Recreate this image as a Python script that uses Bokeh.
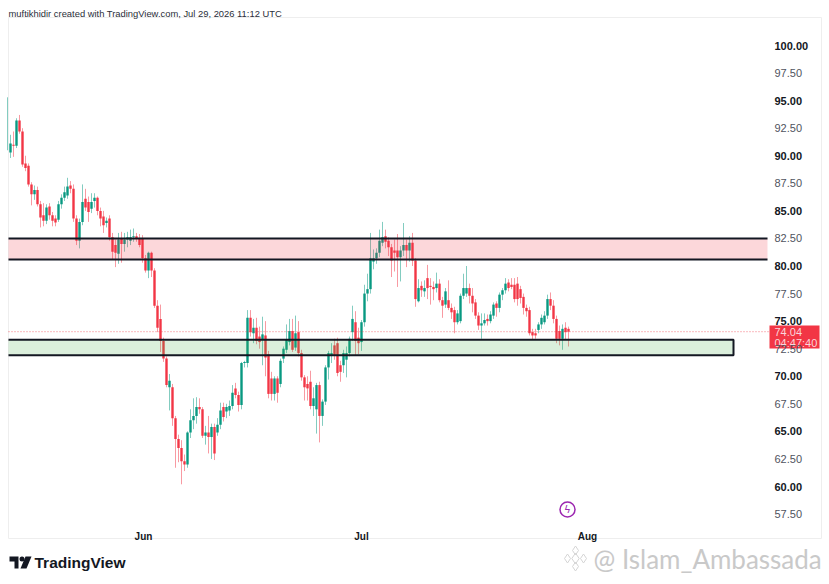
from bokeh.plotting import figure
from bokeh.models import ColumnDataSource, Range1d, LinearAxis, FixedTicker
from bokeh.core.properties import value
from bokeh.embed import file_html
from bokeh.resources import INLINE

# ---- data ----
opens = [90.9,90.3,91.0,90.9,93.2,92.2,89.3,89.1,87.4,86.5,
         86.9,85.6,84.6,84.1,85.4,84.6,84.3,84.2,85.6,86.2,
         86.4,87.3,87.0,84.3,82.3,84.0,86.1,85.8,85.2,85.9,
         86.2,85.0,84.5,83.9,84.3,82.6,81.9,81.1,82.5,82.0,
         82.4,82.3,82.6,82.7,82.5,82.5,80.7,79.6,81.2,79.6,
         76.4,75.2,73.2,71.6,69.0,69.0,66.2,64.3,63.5,62.3,
         62.0,64.9,66.0,66.4,67.2,67.0,64.6,64.9,64.5,65.4,
         64.9,65.6,67.2,66.8,66.9,67.3,68.9,68.3,67.4,71.2,
         71.2,75.3,73.9,74.4,73.6,73.3,73.7,72.0,69.8,68.4,
         69.8,69.3,71.6,72.4,73.1,74.1,72.6,74.0,72.1,69.9,
         69.3,69.5,67.3,67.0,69.2,66.4,67.7,70.8,71.9,72.8,
         73.0,71.0,71.0,71.5,72.1,74.0,74.9,73.5,73.1,74.9,
         77.5,77.9,80.4,80.7,81.2,82.1,82.7,82.3,81.7,81.4,
         81.4,80.8,81.4,81.9,81.4,82.1,80.5,76.8,78.2,77.7,
         78.9,78.2,78.1,78.0,78.4,76.9,76.5,76.9,76.2,76.0,
         74.9,75.0,77.3,77.5,78.0,77.3,76.7,75.5,74.6,74.8,
         75.2,75.0,75.5,76.6,76.2,77.4,77.8,78.5,78.3,78.3,
         78.4,77.9,77.2,76.2,76.0,74.0,73.9,74.2,74.7,74.9,
         75.5,77.0,76.4,75.2,74.1,73.4,74.4,74.3]
highs = [95.3,91.9,92.2,93.4,93.7,92.5,90.0,89.3,87.6,87.3,
         87.2,85.9,85.7,85.6,85.7,84.9,84.6,85.9,86.5,87.2,
         88.0,87.7,87.4,84.6,84.3,87.4,87.0,86.3,86.6,86.6,
         86.3,85.3,85.0,84.4,84.6,83.0,82.4,83.0,83.1,83.0,
         83.1,83.3,83.4,83.0,82.9,82.8,81.0,81.3,81.3,79.8,
         76.9,76.5,73.5,71.8,70.2,69.3,66.4,64.7,64.2,62.9,
         65.0,67.0,68.0,68.1,68.0,67.2,65.5,66.4,65.7,65.7,
         66.2,67.6,67.6,67.5,67.8,69.2,69.4,68.6,71.3,71.4,
         76.0,76.0,75.2,75.3,74.5,75.4,75.0,72.3,70.4,70.0,
         70.0,71.6,72.7,74.7,75.2,75.2,75.5,75.0,72.4,70.1,
         70.0,70.5,69.0,69.4,69.5,67.9,71.0,72.3,73.0,73.4,
         73.5,71.4,72.4,72.7,73.6,76.4,75.9,74.4,75.1,78.3,
         79.3,83.0,81.5,81.6,83.3,84.0,83.3,82.6,82.0,82.4,
         82.9,81.8,83.9,82.4,82.7,83.0,80.7,78.8,78.6,78.7,
         80.1,78.9,78.6,79.4,78.8,77.2,78.0,78.7,76.6,76.3,
         76.0,77.5,79.3,80.0,78.4,78.0,77.0,75.8,75.7,75.7,
         75.6,75.9,76.7,76.8,77.6,78.0,78.9,78.8,78.9,78.9,
         79.0,78.2,77.5,76.5,76.3,74.3,74.3,74.9,75.6,75.9,
         77.4,77.6,76.9,75.5,74.6,74.7,74.9,74.5]
lows = [90.5,89.8,89.9,90.7,92.0,89.0,88.6,87.2,85.5,86.0,
        85.4,83.5,83.6,83.8,84.2,83.6,83.6,84.0,85.2,85.9,
        86.1,86.6,84.0,81.9,81.6,83.7,85.0,84.0,84.8,85.3,
        84.6,83.6,83.0,83.5,82.3,80.6,79.9,80.2,80.3,81.3,
        81.7,81.9,82.2,82.2,81.7,80.3,79.4,78.9,79.0,76.2,
        74.0,72.2,71.3,69.0,66.9,65.5,61.7,62.2,60.2,61.4,
        61.7,64.4,65.2,65.7,66.6,64.4,63.8,63.0,62.5,62.4,
        64.6,65.2,65.9,66.2,66.4,67.0,68.0,66.8,67.0,70.8,
        70.8,73.6,73.0,72.9,72.5,71.0,70.0,68.0,67.8,67.8,
        67.6,69.0,71.2,72.1,72.8,72.2,72.3,71.8,69.6,67.8,
        67.8,67.0,66.4,64.8,64.0,65.5,67.4,69.7,71.2,71.5,
        70.0,69.5,70.3,69.9,71.8,73.2,71.9,72.0,72.3,74.5,
        76.8,77.5,79.7,80.2,80.8,81.8,81.6,80.9,79.0,79.5,
        78.1,78.6,80.9,79.9,80.4,80.0,76.3,76.7,77.2,77.2,
        77.0,76.5,76.9,77.6,76.7,75.3,76.2,76.0,75.2,73.9,
        74.7,74.8,77.0,77.2,76.6,75.8,75.2,74.2,73.4,74.6,
        74.6,74.8,75.2,75.4,75.8,76.9,77.5,77.7,77.9,76.7,
        76.4,76.6,75.6,75.4,73.7,73.3,73.4,73.9,74.3,74.7,
        75.2,76.0,74.8,73.0,72.8,72.4,73.3,72.7]
closes = [90.9,91.1,90.9,93.2,92.2,89.2,88.9,87.4,86.5,86.9,
          85.6,84.4,84.1,85.3,84.6,84.1,83.95,85.6,86.2,86.7,
          87.2,87.0,84.3,82.3,84.0,85.8,85.3,84.9,85.8,86.2,
          85.0,84.3,83.7,84.1,82.6,81.3,81.2,82.4,82.0,82.4,
          82.6,82.6,82.7,82.5,81.9,80.7,79.6,81.2,79.6,76.4,
          74.4,73.2,71.6,69.2,69.6,66.2,64.3,63.5,62.3,62.0,
          64.9,66.0,66.4,67.2,67.0,64.6,64.9,64.5,65.4,63.0,
          65.6,66.9,66.3,67.2,67.3,68.5,68.3,67.4,71.2,71.3,
          75.3,74.0,74.4,73.2,73.1,73.8,71.7,68.4,68.4,69.8,
          68.5,71.4,72.5,73.3,74.1,72.4,73.9,72.1,69.9,69.0,
          68.9,67.3,68.0,69.2,66.4,67.7,70.8,72.1,72.1,71.9,
          70.3,70.4,72.1,72.1,73.4,75.2,73.2,73.0,74.9,77.5,
          77.9,80.7,80.7,81.2,82.3,82.6,82.2,81.7,80.5,81.2,
          80.8,81.4,81.9,81.4,82.1,80.5,77.0,78.0,77.8,78.0,
          78.0,78.1,77.9,78.4,76.9,76.4,77.7,76.2,75.8,74.9,
          75.7,77.3,78.0,78.0,77.3,76.6,75.5,74.6,74.8,75.1,
          75.0,75.6,76.5,76.2,77.4,77.8,78.4,78.0,78.1,77.0,
          77.0,77.1,76.2,75.9,73.9,73.7,73.7,74.7,75.3,75.5,
          77.0,76.4,75.2,73.4,73.4,74.3,74.0,74.04]

major_ticks = [60, 65, 70, 75, 80, 85, 90, 95, 100]
minor_ticks = [57.5, 62.5, 67.5, 72.5, 77.5, 82.5, 87.5, 92.5, 97.5]
month_labels = ["Jun", "Jul", "Aug"]
month_pos = [45.33, 118.0, 193.33]
last_price = 74.04
countdown = "04:47:40"
resistance = (80.6, 82.5)
support = (71.9, 73.3)

RED, GREEN = "#f23645", "#089981"
n = len(closes)
assert len(opens) == n and len(highs) == n and len(lows) == n
colors = [GREEN if c >= o else RED for o, c in zip(opens, closes)]
src = ColumnDataSource(dict(
    x=list(range(n)), o=opens, h=highs, l=lows, c=closes, col=colors,
    top=[max(a, b) for a, b in zip(opens, closes)],
    bot=[min(a, b) for a, b in zip(opens, closes)],
))

W, H = 829, 584
# page pixel -> data helpers for the furniture (pane edge, tag, footer)
def X(px):
    return (px - 7) / 3.0
def Y(py):
    return 100 - (py - 45) / 11.025

p = figure(width=W, height=H, output_backend="svg", toolbar_location=None,
           x_range=Range1d(X(0), X(W)), y_range=Range1d(Y(H), Y(0)),
           x_axis_location=None, y_axis_location=None,
           min_border_left=0, min_border_right=0, min_border_top=0, min_border_bottom=0,
           outline_line_color=None, background_fill_color="white", border_fill_color="white")
p.grid.visible = False

# pane border
p.quad(left=[X(8)], right=[X(821)], top=[Y(17)], bottom=[Y(538)], fill_alpha=0,
       line_color="#eeeeee", line_width=1)

p.segment("x", "h", "x", "l", source=src, color="col", line_width=1, line_alpha=0.5)
p.vbar("x", 0.8, "top", "bot", source=src, fill_color="col", line_color="col", line_width=0)

p.quad(left=[X(8)], right=[X(767)], bottom=[resistance[0]], top=[resistance[1]],
       fill_color="#f23645", fill_alpha=0.2, line_alpha=0)
p.quad(left=[X(8)], right=[X(733)], bottom=[support[0]], top=[support[1]],
       fill_color="#4caf50", fill_alpha=0.2, line_alpha=0)
p.multi_line([[X(8), X(767)], [X(8), X(767)]],
             [[resistance[0]] * 2, [resistance[1]] * 2], line_color="#131722", line_width=2)
p.multi_line([[X(8), X(733), X(733), X(8)]],
             [[support[1], support[1], support[0], support[0]]], line_color="#131722", line_width=2)

p.line([X(8), X(769)], [last_price, last_price], line_color=RED, line_width=1,
       line_alpha=0.7, line_dash="1 2")

def fmt(t):
    return {v: f"{v:.2f}" for v in t}

for ticks, col, style in ((minor_ticks, "#50535e", "normal"), (major_ticks, "#131722", "bold")):
    ax = LinearAxis(ticker=FixedTicker(ticks=ticks), major_label_overrides=fmt(ticks),
                    fixed_location=X(767), axis_line_color=None, major_tick_line_color=None,
                    minor_tick_line_color=None, major_label_standoff=1,
                    major_label_text_color=col, major_label_text_font="Liberation Sans",
                    major_label_text_font_style=style, major_label_text_font_size="11px")
    p.add_layout(ax, "right")

xa = LinearAxis(ticker=FixedTicker(ticks=month_pos),
                major_label_overrides=dict(zip(month_pos, month_labels)),
                fixed_location=Y(519), axis_line_color=None, major_tick_line_color=None,
                minor_tick_line_color=None, major_label_standoff=5,
                major_label_text_color="#131722", major_label_text_font="Liberation Sans",
                major_label_text_font_style="bold", major_label_text_font_size="10px")
p.add_layout(xa, "below")

# last price tag
p.quad(left=[X(769)], right=[X(819)], top=[Y(325)], bottom=[Y(348)], fill_color=RED, line_width=0)

def label(txt, px, py, size, color="#131722", font="Liberation Sans", style="normal", align="left"):
    p.text([X(px)], [Y(py)], text=[txt], text_font=value(font), text_font_size=f"{size}px",
           text_color=color, text_font_style=style, text_align=align, text_baseline="middle")

label(f"{last_price:.2f}", 774, 331, 11, "#fbd5da")
label(countdown, 774, 342, 11, "#fbd5da")
label("muftikhidir created with TradingView.com, Jul 29, 2026 11:12 UTC", 8, 13, 9.4, "#2a2e39")
label("TradingView", 34, 562, 15.5, "#131722", style="bold")
label("@ Islam_Ambassada", 593, 558, 26, "#c9c9c9", font="Lato")

# TradingView mark
p.patches([[X(9), X(18), X(18), X(14), X(14), X(9)], [X(25), X(31), X(26), X(20)]],
          [[Y(556), Y(556), Y(568), Y(568), Y(561), Y(561)], [Y(556), Y(556), Y(568), Y(568)]],
          fill_color="#131722", line_width=0)
p.scatter([X(21.5)], [Y(558.5)], marker="circle", size=5, fill_color="#131722", line_width=0)

# watermark emblem
p.scatter([X(575), X(567), X(583), X(575), X(575)], [Y(550), Y(558), Y(558), Y(566), Y(558)],
          marker="diamond", size=[9, 9, 9, 9, 11], fill_alpha=0, line_color="#d5d5d5", line_width=1)

# flash icon
p.scatter([X(567)], [Y(509)], marker="circle", size=15, fill_alpha=0, line_color="#9c27b0", line_width=1.5)
p.text([X(567)], [Y(509)], text=["ϟ"], text_color="#9c27b0", text_font_size="10px",
       text_align="center", text_baseline="middle")

open("out.html", "w").write(file_html(p, INLINE))
